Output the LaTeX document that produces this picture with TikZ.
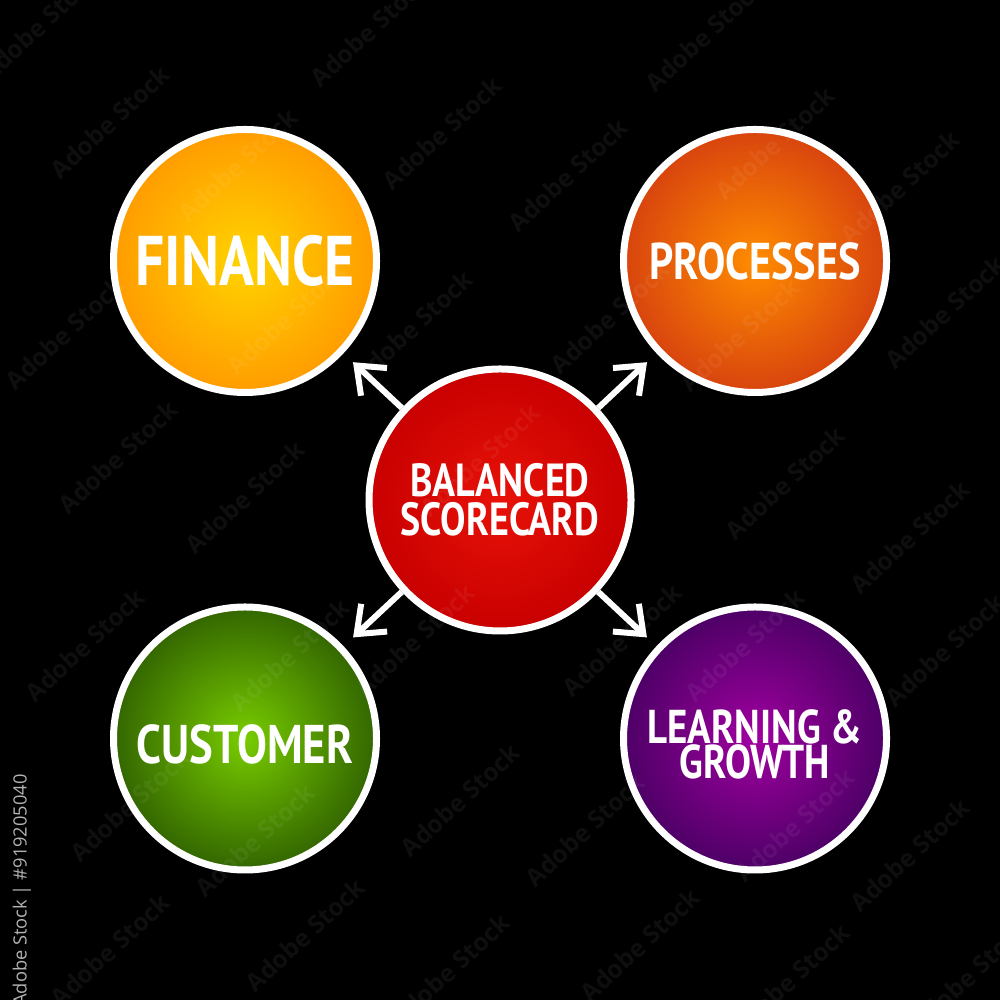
\documentclass[tikz,border=0pt]{standalone}
\usepackage{fontspec}
\setmainfont[FakeStretch=0.82]{PT Sans}
\newfontfamily\stockfont{Open Sans}
\usetikzlibrary{arrows.meta}
\definecolor{financein}{HTML}{FFD400}
\definecolor{financeout}{HTML}{FF9C00}
\definecolor{processin}{HTML}{FF8C00}
\definecolor{processout}{HTML}{D8440E}
\definecolor{customerin}{HTML}{78CC00}
\definecolor{customerout}{HTML}{336600}
\definecolor{learningin}{HTML}{A000A0}
\definecolor{learningout}{HTML}{4D0066}
\definecolor{balancedin}{HTML}{E81208}
\definecolor{balancedout}{HTML}{C80000}

\begin{document}
\begin{tikzpicture}[
    area/.style ={circle, draw=white, line width=0.7mm, inner sep=0pt, minimum size=26.3mm, align=center, text=white},
    connector/.style ={draw=white, line width=0.6mm, shorten >=1.3mm, -{Straight Barb[length=2.4mm, width=3.8mm, line width=0.6mm]}},
    stockmark/.style ={text=white, text opacity=0.055, rotate=43, font=\stockfont\bfseries\fontsize{7}{7}\selectfont}]
   \fill[black] (0,0) rectangle (10,10);
   \useasboundingbox (0,0) rectangle (10,10);
   \node[area, inner color=financein, outer color=financeout, font=\bfseries\fontsize{20}{20}\selectfont] (finance) at (2.45,7.39) {FINANCE};
   \node[area, inner color=processin, outer color=processout, font=\bfseries\fontsize{14.7}{14.7}\selectfont] (processes) at (7.55,7.39) {PROCESSES};
   \node[area, inner color=customerin, outer color=customerout, font=\bfseries\fontsize{15.5}{15.5}\selectfont] (customer) at (2.45,2.615) {\rule{0pt}{14.2pt}CUSTOMER};
   \node[area, inner color=learningin, outer color=learningout, font=\bfseries\fontsize{13.5}{10.2}\selectfont] (learning) at (7.55,2.615) {\rule{0pt}{13pt}LEARNING \&\\GROWTH};
   \node[area, minimum size=26.2mm, inner color=balancedin, outer color=balancedout, font=\bfseries\fontsize{13.2}{11}\selectfont] (balanced) at (5,5) {BALANCED\\SCORECARD};
   \draw[connector] (balanced) -- (finance);
   \draw[connector] (balanced) -- (processes);
   \draw[connector] (balanced) -- (customer);
   \draw[connector] (balanced) -- (learning);
   % marks of the stock library, as printed over the picture
   \foreach \wx/\wy [count=\wi] in {0.4/9.75, 3.7/9.7, 7.05/9.65, 1.1/8.78, 4.42/8.67, 7.75/8.57, 2.38/8.35, 5.68/8.25, 9/8.13,
       0.65/6.67, 2.87/6.82, 4.13/6.73, 6.1/6.83, 7.4/6.65, 9.45/6.88, 1.18/5.43, 2.45/5.03, 4.8/5.4, 7.85/5.17, 9.1/4.63,
       0.85/3.55, 2.9/3.45, 4.15/3.6, 6.22/3.6, 7.45/3.55, 9.45/3.5, 1.3/1.95, 2.55/1.6, 4.6/2.0, 5.85/1.7, 7.95/1.75, 9.1/1.45,
       1.1/0.5, 3.05/0.65, 4.5/0.3, 6.4/0.55, 7.9/0.2, 9.7/0.25}
     \node[stockmark] (mark\wi) at (\wx,\wy) {Adobe Stock};
   \node[rotate=90, anchor=east, text=white!70!black, font=\stockfont\fontsize{5.2}{5.2}\selectfont] (stockid) at (0.22,2.38) {Adobe Stock | \#919205040};
 \end{tikzpicture}
\end{document}
